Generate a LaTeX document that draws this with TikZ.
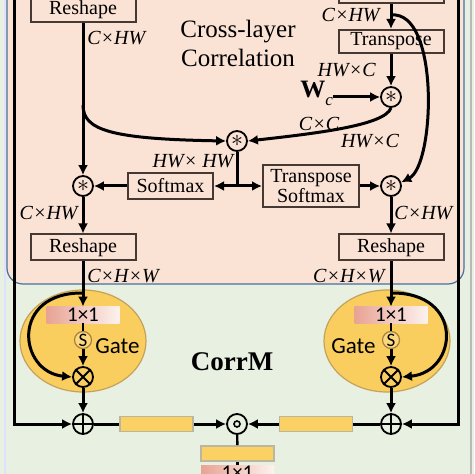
\documentclass[tikz,border=0pt]{standalone}
\usepackage{fontspec}
\setmainfont{Liberation Serif}
\newfontfamily\gatefont{Carlito}
\usetikzlibrary{arrows.meta}

\definecolor{greenbg}{RGB}{232,240,225}
\definecolor{pinkbg}{RGB}{250,226,213}
\definecolor{regionline}{RGB}{72,112,160}
\definecolor{boxline}{RGB}{70,56,50}
\definecolor{gold}{RGB}{249,206,95}
\definecolor{goldline}{RGB}{196,162,92}
\definecolor{sigline}{RGB}{168,128,58}
\definecolor{barfill}{RGB}{250,209,98}
\definecolor{barline}{RGB}{186,182,160}
\definecolor{convleft}{RGB}{232,163,148}
\definecolor{convright}{RGB}{253,242,238}

\begin{document}
\begin{tikzpicture}[x=0.5pt, y=-0.5pt, >={Latex[length=5pt,width=5pt]}, node distance=12.5pt,
  block/.style={draw=boxline, line width=1pt, fill=pinkbg, minimum width=52.5pt, minimum height=13pt, inner sep=1pt, font=\fontsize{10pt}{8.5pt}\selectfont},
  op/.style={circle, draw, line width=0.9pt, minimum size=10pt, inner sep=0pt, font=\large},
  dims/.style={inner sep=0pt, font=\fontsize{10pt}{12pt}\selectfont\itshape},
  bar/.style={draw=barline, line width=0.8pt, fill=barfill, minimum width=36.5pt, minimum height=7.5pt, inner sep=0pt},
  conv/.style={left color=convleft, right color=convright, minimum width=36.5pt, minimum height=8pt, inner sep=0pt, font=\gatefont\fontsize{10.5pt}{10.5pt}\selectfont},
  sig/.style={circle, draw=sigline, line width=0.6pt, fill=gold!80!white, minimum size=8.5pt, inner sep=0pt, font=\gatefont\fontsize{9.5pt}{9.5pt}\selectfont},
  link/.style={->, line width=1.5pt}]

  % Background
  \useasboundingbox (0,0) rectangle (474,474);
  \fill[greenbg] (0,0) rectangle (474,474);
  \draw[regionline, line width=0.6pt, fill=pinkbg, rounded corners=8pt] (7,-40) rectangle (464,284);
  \draw[blue!12, line width=0.8pt] (5,0) -- (5,474);
  \draw[gray!55, line width=0.6pt] (471,0) -- (471,474);
  \draw[goldline, line width=0.6pt, fill=gold] (83,341) ellipse [x radius=31.5pt, y radius=25.5pt];
  \draw[goldline, line width=0.6pt, fill=gold] (387,341) ellipse [x radius=31.5pt, y radius=25.5pt];

  % Left column
  \node[block] (L1) at (83,9.5) {Reshape};
  \node[op] (L2) at (83,186) {$\ast$};
  \node[block] (L3) at (83,247.5) {Reshape};
  \node[conv] (L4) at (83,315) {1×1};
  \node[sig, below of=L4] (L5) {S};
  \node[op, below of=L5, node distance=18.5pt] (L6) {};
  \node[op, below of=L6, node distance=23.5pt] (L7) {};

  % Right column
  \node[block] (R0) at (391,-10) {};
  \node[block, minimum height=11.5pt] (R1) at (391,41.5) {Transpose};
  \node[op] (R2) at (391,97) {$\ast$};
  \node[op] (R3) at (391,186) {$\ast$};
  \node[block] (R4) at (391,247.5) {Reshape};
  \node[conv] (R5) at (391,315) {1×1};
  \node[sig, below of=R5] (R6) {S};
  \node[op, below of=R6, node distance=18.5pt] (R7) {};
  \node[op, below of=R7, node distance=23.5pt] (R8) {};

  % Middle
  \node[op] (C1) at (237,141) {$\ast$};
  \node[block, minimum width=42.5pt] (S1) at (170.5,186) {Softmax};
  \node[block, minimum width=48pt, minimum height=21pt, align=center] (S2) at (311,186) {Transpose\\Softmax};
  \node[op] (C2) at (237,424) {};
  \node[bar] (BL) at (156.5,424) {};
  \node[bar] (BR) at (316,424) {};
  \node[bar] (C3) at (237.5,453.5) {};
  \node[conv] (C4) at (237.5,473) {1×1};

  % Branch points
  \coordinate (J1) at (237,186);
  \coordinate (J2) at (83,105);
  \coordinate (J3) at (391,15);
  \coordinate (J4) at (83,293);
  \coordinate (J5) at (391,293);
  \coordinate (K1) at (14,-10);
  \coordinate (K2) at (458,-10);

  % Labels
  \node[align=center, font=\fontsize{12.5pt}{14.5pt}\selectfont] (T1) at (238,43) {Cross-layer\\Correlation};
  \node[font=\fontsize{13.5pt}{14pt}\selectfont\bfseries] (T2) at (232,362) {CorrM};
  \node[anchor=west, inner sep=0pt, font=\gatefont\fontsize{11.5pt}{11.5pt}\selectfont] (G1) at (95,346) {Gate};
  \node[anchor=east, inner sep=0pt, font=\gatefont\fontsize{11.5pt}{11.5pt}\selectfont] (G2) at (376,346) {Gate};
  \node[anchor=west, inner sep=0pt, font=\fontsize{12.5pt}{12.5pt}\selectfont] (Wc) at (300,93) {\textbf{W}\raisebox{-4pt}{\fontsize{8.5pt}{8.5pt}\selectfont\textit{c}}};
  \node[dims, anchor=west] (D1) at (87,38) {C×HW};
  \node[dims, anchor=east] (D2) at (380,15) {C×HW};
  \node[dims, anchor=east] (D3) at (376,70) {HW×C};
  \node[dims] (D4) at (319,124) {C×C};
  \node[dims] (D5) at (370,141) {HW×C};
  \node[dims] (D6) at (193,161) {HW× HW};
  \node[dims, anchor=east] (D7) at (78,213) {C×HW};
  \node[dims, anchor=west] (D8) at (394,213) {C×HW};
  \node[dims, anchor=west] (D9) at (87,276) {C×H×W};
  \node[dims, anchor=east] (D10) at (385,276) {C×H×W};

  % Vertical arrows
  \draw[link] (L1) -- (L2);
  \draw[link] (L2) -- (L3);
  \draw[link] (L3) -- (L4);
  \draw[line width=1.2pt] (L4) -- (L5);
  \draw[link] (L5) -- (L6);
  \draw[link] (L6) -- (L7);
  \draw[link] (R0) -- (R1);
  \draw[link] (R1) -- (R2);
  \draw[link] (R3) -- (R4);
  \draw[link] (R4) -- (R5);
  \draw[line width=1.2pt] (R5) -- (R6);
  \draw[link] (R6) -- (R7);
  \draw[link] (R7) -- (R8);

  % Correlation arrows
  \draw[link] (Wc.east |- R2) -- (R2);
  \draw[link] (J2) .. controls (83,130) and (110,139) .. (C1.west);
  \draw[link] (R2.south) .. controls (385,125) and (320,133) .. (C1.east);
  \draw[link] (J3) .. controls (440,10) and (435,165) .. (R3.20);
  \draw[line width=1.5pt] (C1) -- (J1);
  \draw[link] (J1) -- (S1);
  \draw[link] (J1) -- (S2);
  \draw[link] (S1) -- (L2);
  \draw[link] (S2) -- (R3);

  % Gate arrows
  \draw[link] (J4) .. controls (10,292) and (18,372) .. (L6.west);
  \draw[link] (J5) .. controls (465,292) and (458,372) .. (R7.east);

  % Fusion
  \draw[link] (K1) |- (L7.west);
  \draw[link] (K2) |- (R8.east);
  \draw[line width=1.5pt] (L7) -- (BL);
  \draw[link] (BL) -- (C2);
  \draw[line width=1.5pt] (R8) -- (BR);
  \draw[link] (BR) -- (C2);
  \draw[line width=1.2pt] (C2) -- (C3);
  \draw[line width=1.2pt] (C3) -- (C4);

  % Operator signs
  \draw[line width=0.9pt] (L6.north east) -- (L6.south west) (L6.north west) -- (L6.south east);
  \draw[line width=0.9pt] (R7.north east) -- (R7.south west) (R7.north west) -- (R7.south east);
  \draw[line width=0.9pt] (L7.north) -- (L7.south) (L7.west) -- (L7.east);
  \draw[line width=0.9pt] (R8.north) -- (R8.south) (R8.west) -- (R8.east);
  \draw[line width=0.8pt] (C2) circle [radius=1.5pt];

\end{tikzpicture}
\end{document}
